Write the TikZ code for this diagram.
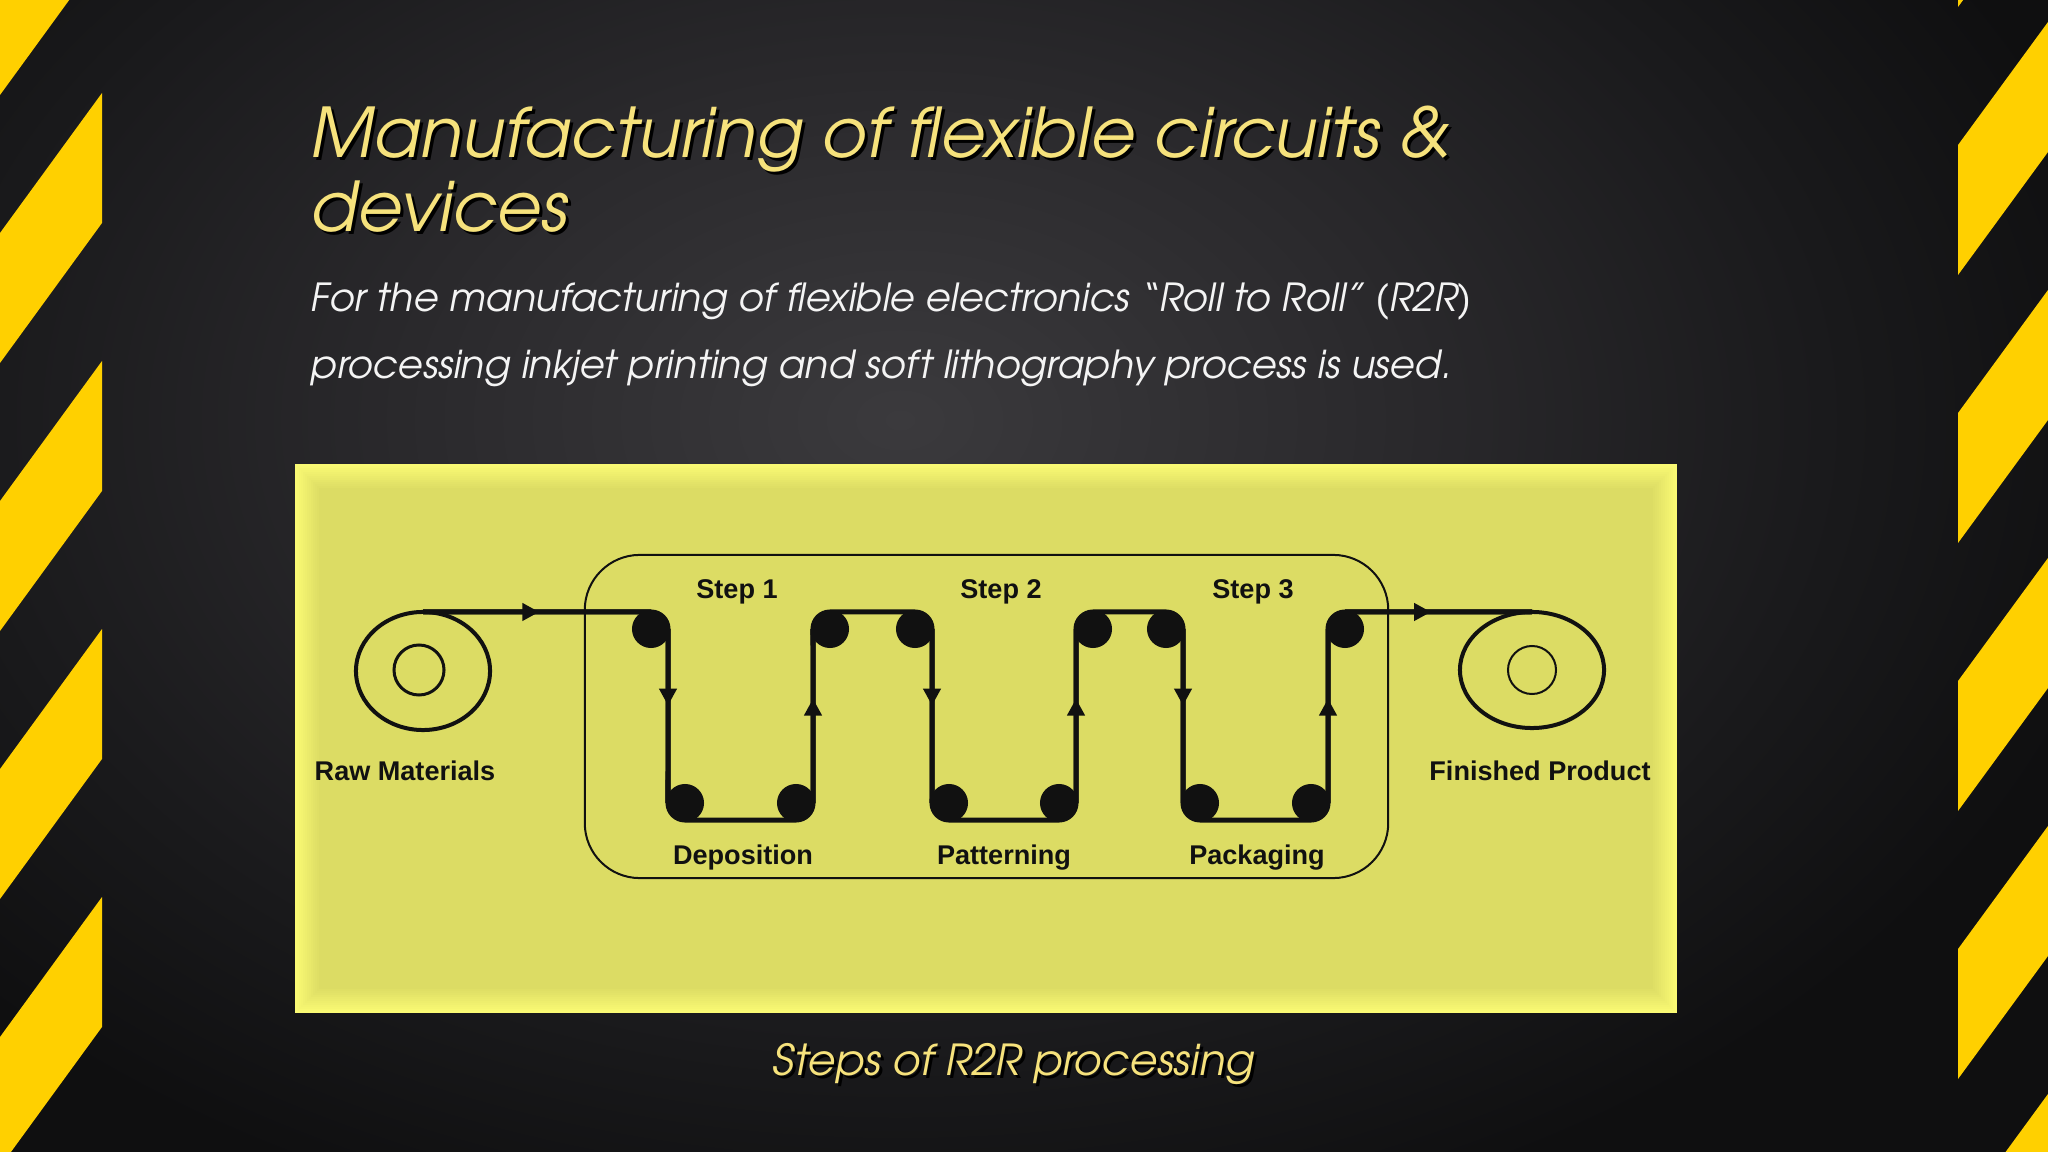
\documentclass[tikz,border=0pt]{standalone}
\usepackage{fontspec}
\setmainfont{Liberation Sans}
\newfontfamily\advfont{TeX Gyre Adventor}
\newfontfamily\labfont{Liberation Sans}
\usetikzlibrary{shapes.geometric,arrows.meta,decorations.markings}

\definecolor{bgd}{HTML}{0F0F10}
\definecolor{bgd2}{HTML}{19191B}
\definecolor{bgm}{HTML}{2A292C}
\definecolor{bgc}{HTML}{3B3A3D}
\definecolor{stripey}{HTML}{FFD000}
\definecolor{panelin}{HTML}{DCDC64}
\definecolor{panelout}{HTML}{FAFA74}
\definecolor{titley}{HTML}{F6E27C}
\definecolor{subw}{HTML}{F4F4F4}
\definecolor{ink}{HTML}{111111}

\pgfdeclareradialshading{bgshade}{\pgfpoint{0bp}{0bp}}{color(0bp)=(bgc); color(10bp)=(bgm); color(19bp)=(bgd2); color(25bp)=(bgd); color(50bp)=(bgd)}

\begin{document}
\begin{tikzpicture}[x=0.01cm,y=-0.01cm,
  roller/.style={circle,fill=ink,draw=ink,line width=0.04cm,minimum size=0.34cm,inner sep=0pt,outer sep=0pt},
  roll/.style={ellipse,draw=ink,line width=0.04cm,inner sep=0pt,outer sep=0pt},
  hub/.style={circle,draw=ink,inner sep=0pt,outer sep=0pt},
  web/.style={draw=ink,line width=0.05cm,rounded corners=0.17cm},
  midarrow/.style={draw=ink,line width=0.05cm,postaction={decorate},
    decoration={markings,mark=at position #1 with {\arrow[ink]{Triangle[length=0.17cm,width=0.17cm]}}}},
  lab/.style={font=\labfont\bfseries\fontsize{7.7pt}{9pt}\selectfont,text=ink,anchor=base,inner sep=0pt},
  titletext/.style={font=\advfont\itshape\fontsize{19.5pt}{22pt}\selectfont,anchor=base west,inner sep=0pt},
  subtext/.style={font=\advfont\itshape\fontsize{11pt}{13pt}\selectfont,text=subw,anchor=base west,inner sep=0pt},
  captext/.style={font=\advfont\itshape\fontsize{12.15pt}{14pt}\selectfont,anchor=base,inner sep=0pt}
]
\useasboundingbox (0,0) rectangle (2048,1152);
\begin{scope}
\clip (0,0) rectangle (2048,1152);
\fill[bgd] (0,0) rectangle (2048,1152);
\shade[shading=bgshade] (900,420) ellipse [x radius=1250, y radius=850];
% stripes
\foreach \t in {-175,93,361,629,897,1165}{
  \fill[stripey] (0,\t+140) -- (102,\t) -- (102,\t+130) -- (0,\t+270) -- cycle;
}
\foreach \t in {-123,145,413,681,949,1217}{
  \fill[stripey] (1958,\t) -- (2048,\t-123) -- (2048,\t+7) -- (1958,\t+130) -- cycle;
}
\end{scope}

% title
\node[titletext,text=black] at (313,161) {Manufacturing of flexible circuits \&};
\node[titletext,text=titley] (title1) at (310,158) {Manufacturing of flexible circuits \&};
\node[titletext,text=black] at (313,235) {devices};
\node[titletext,text=titley] (title2) at (310,232) {devices};
\node[subtext] (sub1) at (310,312) {For the manufacturing of flexible electronics “Roll to Roll” (R2R)};
\node[subtext] (sub2) at (310,379) {processing inkjet printing and soft lithography process is used.};

% panel
\foreach \i in {0,...,12}{
  \pgfmathtruncatemacro{\p}{100*\i/12}
  \fill[panelin!\p!panelout] (295+2*\i,464+2*\i) rectangle (1677-2*\i,1013-2*\i);
}

% frame
\node[draw=ink,line width=0.02cm,rounded corners=0.55cm,minimum width=8.03cm,minimum height=3.23cm,inner sep=0pt,outer sep=0pt] (frame) at (986.5,716.5) {};

% rolls
\node[roll,minimum width=1.34cm,minimum height=1.18cm] (rollL) at (423,671) {};
\node[hub,line width=0.03cm,minimum size=0.5cm] (hubL) at (419,670) {};
\node[roll,minimum width=1.44cm,minimum height=1.16cm] (rollR) at (1532,670) {};
\node[hub,line width=0.02cm,minimum size=0.48cm] (hubR) at (1532,670) {};

% rollers
\node[roller] (T1) at (651,629) {};
\node[roller] (B1) at (685,803) {};
\node[roller] (B2) at (796,803) {};
\node[roller] (T2) at (830,629) {};
\node[roller] (T3) at (915,629) {};
\node[roller] (B3) at (949,803) {};
\node[roller] (B4) at (1059,803) {};
\node[roller] (T4) at (1093,629) {};
\node[roller] (T5) at (1166,629) {};
\node[roller] (B5) at (1200,803) {};
\node[roller] (B6) at (1311,803) {};
\node[roller] (T6) at (1345,629) {};

% web
\draw[web] (rollL.north) -- (T1.north -| T1.east) -- (B1.south -| B1.west) -- (B2.south -| B2.east)
  -- (T2.north -| T2.west) -- (T3.north -| T3.east) -- (B3.south -| B3.west) -- (B4.south -| B4.east)
  -- (T4.north -| T4.west) -- (T5.north -| T5.east) -- (B5.south -| B5.west) -- (B6.south -| B6.east)
  -- (T6.north -| T6.west) -- (rollR.north);

% direction arrows
\path[midarrow=0.51] (rollL.north) -- (T1.north);
\path[midarrow=0.44] (T1.east) -- (B1.west);
\path[midarrow=0.60] (B2.east) -- (T2.west);
\path[midarrow=0.44] (T3.east) -- (B3.west);
\path[midarrow=0.60] (B4.east) -- (T4.west);
\path[midarrow=0.44] (T5.east) -- (B5.west);
\path[midarrow=0.60] (B6.east) -- (T6.west);
\path[midarrow=0.46] (T6.north) -- (rollR.north);

% labels
\node[lab] (s1) at (737,599) {Step 1};
\node[lab] (s2) at (1001,599) {Step 2};
\node[lab] (s3) at (1253,599) {Step 3};
\node[lab] (d1) at (743,864) {Deposition};
\node[lab] (d2) at (1004,864) {Patterning};
\node[lab] (d3) at (1257,864) {Packaging};
\node[lab] (raw) at (405,780) {Raw Materials};
\node[lab] (fin) at (1540,780) {Finished Product};

% caption
\node[captext,text=black] at (1016,1078) {Steps of R2R processing};
\node[captext,text=titley] (cap) at (1013,1075) {Steps of R2R processing};
\end{tikzpicture}
\end{document}
